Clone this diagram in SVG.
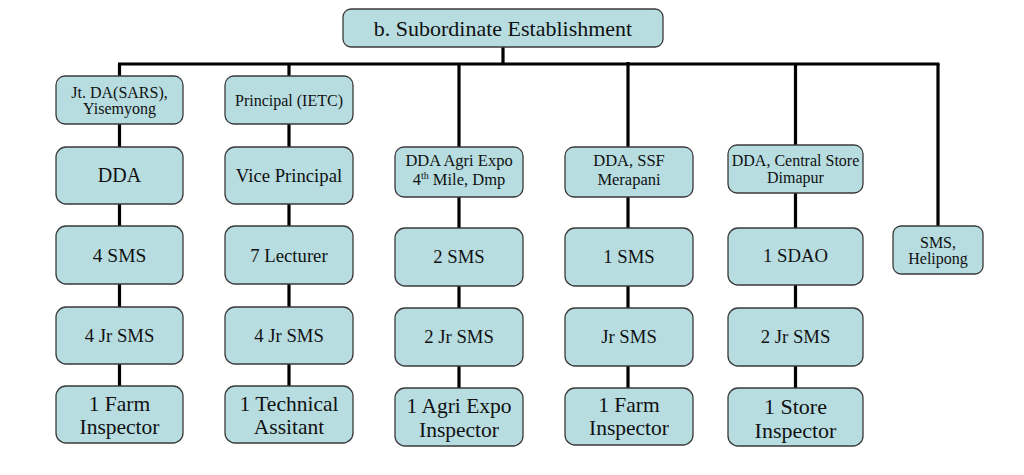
<svg xmlns="http://www.w3.org/2000/svg" width="1024" height="475" viewBox="0 0 1024 475">
  <style>
    .box { fill: #b7dde1; stroke: #3a3a3a; stroke-width: 1.3; }
    .wire { stroke: #000; stroke-width: 3.2; fill: none; }
    text { fill: #111; text-anchor: middle; }
    .t22 { font-size: 22px; }
    .t21 { font-size: 21.5px; }
    .t19 { font-size: 18.7px; }
    .t16 { font-size: 16px; }
  </style>
  <rect width="1024" height="475" fill="#fff"/>

  <!-- connectors -->
  <g id="connectors">
    <path class="wire" d="M503 47 V64"/>
    <path class="wire" d="M118 64 H939.5"/>
    <path class="wire" d="M119.5 64 V386"/>
    <path class="wire" d="M289 64 V386"/>
    <path class="wire" d="M459 64 V388"/>
    <path class="wire" d="M628 62 V388"/>
    <path class="wire" d="M795.5 64 V388"/>
    <path class="wire" d="M938 64 V226"/>
  </g>

  <g font-family="Liberation Serif, Times New Roman, serif">
  <g id="root">
    <rect class="box" x="343" y="9" width="320" height="38" rx="8"/>
    <text class="t22" x="503" y="35.5">b. Subordinate Establishment</text>
  </g>

  <!-- column 1 -->
  <g id="jt-da">
    <rect class="box" x="56" y="76" width="127" height="48" rx="9"/>
    <text class="t16" x="119.5" y="98">Jt. DA(SARS),</text>
    <text class="t16" x="119.5" y="114">Yisemyong</text>
  </g>
  <g id="c1-dda">
    <rect class="box" x="56" y="147" width="127" height="57" rx="10"/>
    <text class="t19" x="119.5" y="182" style="font-size:20px">DDA</text>
  </g>
  <g id="c1-sms">
    <rect class="box" x="56" y="226" width="127" height="58" rx="10"/>
    <text class="t19" x="119.5" y="262" style="font-size:19.5px">4 SMS</text>
  </g>
  <g id="c1-jrsms">
    <rect class="box" x="56" y="307" width="127" height="57" rx="10"/>
    <text class="t19" x="119.5" y="342">4 Jr SMS</text>
  </g>
  <g id="c1-farm">
    <rect class="box" x="56" y="386" width="127" height="57" rx="10"/>
    <text class="t21" x="119.5" y="411">1 Farm</text>
    <text class="t21" x="119.5" y="434">Inspector</text>
  </g>

  <!-- column 2 -->
  <g id="principal">
    <rect class="box" x="225" y="76" width="128" height="48" rx="9"/>
    <text class="t16" x="289" y="106">Principal (IETC)</text>
  </g>
  <g id="c2-vice">
    <rect class="box" x="225" y="147" width="128" height="57" rx="10"/>
    <text class="t19" x="289" y="182">Vice Principal</text>
  </g>
  <g id="c2-lect">
    <rect class="box" x="225" y="226" width="128" height="58" rx="10"/>
    <text class="t19" x="289" y="262">7 Lecturer</text>
  </g>
  <g id="c2-jrsms">
    <rect class="box" x="225" y="307" width="128" height="57" rx="10"/>
    <text class="t19" x="289" y="342">4 Jr SMS</text>
  </g>
  <g id="c2-tech">
    <rect class="box" x="225" y="386" width="128" height="57" rx="10"/>
    <text class="t21" x="289" y="411">1 Technical</text>
    <text class="t21" x="289" y="434">Assitant</text>
  </g>

  <!-- column 3 -->
  <g id="agri-expo">
    <rect class="box" x="395" y="147" width="128" height="50" rx="9"/>
    <text class="t16" x="459" y="166" style="font-size:16.5px">DDA Agri Expo</text>
    <text class="t16" x="459" y="185" style="font-size:16.5px">4<tspan dy="-6" style="font-size:10px">th</tspan><tspan dy="6"> Mile, Dmp</tspan></text>
  </g>
  <g id="c3-sms">
    <rect class="box" x="395" y="228" width="128" height="58" rx="10"/>
    <text class="t19" x="459" y="263">2 SMS</text>
  </g>
  <g id="c3-jrsms">
    <rect class="box" x="395" y="308" width="128" height="58" rx="10"/>
    <text class="t19" x="459" y="343">2 Jr SMS</text>
  </g>
  <g id="c3-insp">
    <rect class="box" x="395" y="388" width="128" height="58" rx="10"/>
    <text class="t21" x="459" y="413">1 Agri Expo</text>
    <text class="t21" x="459" y="437">Inspector</text>
  </g>

  <!-- column 4 -->
  <g id="ssf">
    <rect class="box" x="565" y="147" width="128" height="50" rx="9"/>
    <text class="t16" x="629" y="166" style="font-size:16.5px">DDA, SSF</text>
    <text class="t16" x="629" y="185" style="font-size:16.5px">Merapani</text>
  </g>
  <g id="c4-sms">
    <rect class="box" x="565" y="228" width="128" height="58" rx="10"/>
    <text class="t19" x="629" y="263">1 SMS</text>
  </g>
  <g id="c4-jrsms">
    <rect class="box" x="565" y="308" width="128" height="58" rx="10"/>
    <text class="t19" x="629" y="343">Jr SMS</text>
  </g>
  <g id="c4-farm">
    <rect class="box" x="565" y="388" width="128" height="57" rx="10"/>
    <text class="t21" x="629" y="412">1 Farm</text>
    <text class="t21" x="629" y="435">Inspector</text>
  </g>

  <!-- column 5 -->
  <g id="central-store">
    <rect class="box" x="728" y="145" width="135" height="48" rx="9"/>
    <text class="t16" x="795.5" y="166">DDA, Central Store</text>
    <text class="t16" x="795.5" y="183">Dimapur</text>
  </g>
  <g id="c5-sdao">
    <rect class="box" x="728" y="228" width="135" height="57" rx="10"/>
    <text class="t19" x="795.5" y="262">1 SDAO</text>
  </g>
  <g id="c5-jrsms">
    <rect class="box" x="728" y="308" width="135" height="58" rx="10"/>
    <text class="t19" x="795.5" y="343">2 Jr SMS</text>
  </g>
  <g id="c5-store">
    <rect class="box" x="728" y="388" width="135" height="58" rx="10"/>
    <text class="t22" x="795.5" y="414">1 Store</text>
    <text class="t22" x="795.5" y="438">Inspector</text>
  </g>

  <!-- column 6 -->
  <g id="helipong">
    <rect class="box" x="893" y="226" width="90" height="48" rx="8"/>
    <text class="t16" x="938" y="248">SMS,</text>
    <text class="t16" x="938" y="264">Helipong</text>
  </g>
  </g>
</svg>
